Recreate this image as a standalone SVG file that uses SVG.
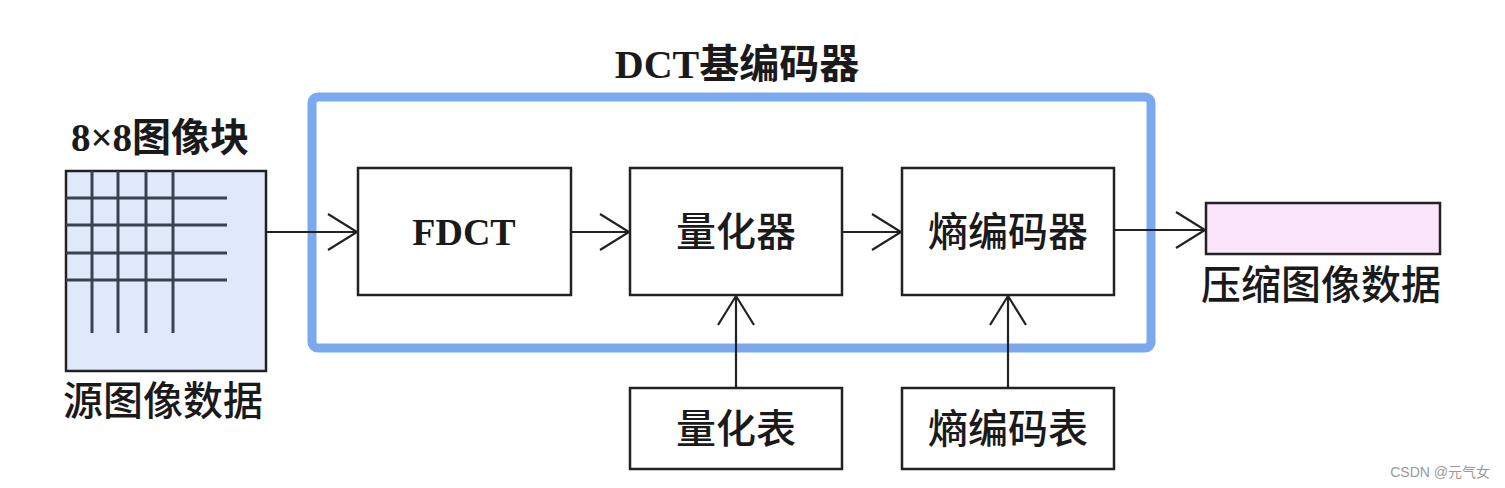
<svg xmlns="http://www.w3.org/2000/svg" width="1505" height="488" viewBox="0 0 1505 488">
<style>
.box{fill:#fff;stroke:#222;stroke-width:2.5}
.t{font-family:"Liberation Serif","Noto Sans CJK SC",serif;fill:#1a1a1a;text-anchor:middle;font-weight:500}
.b{font-weight:bold}
.ln{stroke:#222;stroke-width:2.2;fill:none}
.grid{stroke:#3a4250;stroke-width:3}
.wm{font-family:"Liberation Sans","Noto Sans CJK SC",sans-serif;fill:#999;text-anchor:end}
</style>
<rect width="1505" height="488" fill="#fff"/>
<g id="encoder">
<rect x="312" y="97" width="839" height="251" rx="6" fill="none" stroke="#7aa9ef" stroke-width="9"/>
<text class="t b" x="737" y="78" font-size="40">DCT基编码器</text>
</g>
<g id="source">
<text class="t b" x="160" y="151" font-size="39">8×8图像块</text>
<rect x="66" y="171" width="200" height="200" fill="#dfe9f9" stroke="#222" stroke-width="2.5"/>
<g class="grid">
<line x1="92" y1="171" x2="92" y2="333"/>
<line x1="118" y1="171" x2="118" y2="333"/>
<line x1="146" y1="171" x2="146" y2="333"/>
<line x1="173" y1="171" x2="173" y2="333"/>
<line x1="66" y1="198" x2="227" y2="198"/>
<line x1="66" y1="225" x2="227" y2="225"/>
<line x1="66" y1="253" x2="227" y2="253"/>
<line x1="66" y1="280" x2="227" y2="280"/>
</g>
<text class="t" x="163" y="415" font-size="40">源图像数据</text>
</g>
<g id="fdct"><rect class="box" x="358" y="168" width="213" height="127"/><text class="t b" x="464" y="245" font-size="38">FDCT</text></g>
<g id="quantizer"><rect class="box" x="630" y="168" width="212" height="127"/><text class="t" x="736" y="246" font-size="40">量化器</text></g>
<g id="entropy"><rect class="box" x="902" y="168" width="212" height="127"/><text class="t" x="1008" y="246" font-size="40">熵编码器</text></g>
<g id="qtable"><rect class="box" x="630" y="388" width="212" height="81"/><text class="t" x="736" y="443" font-size="40">量化表</text></g>
<g id="etable"><rect class="box" x="902" y="388" width="212" height="81"/><text class="t" x="1008" y="443" font-size="40">熵编码表</text></g>
<g id="output">
<rect x="1206" y="203" width="234" height="51" fill="#fbe5fb" stroke="#222" stroke-width="2.5"/>
<text class="t" x="1321" y="299" font-size="40">压缩图像数据</text>
</g>
<g id="connectors" class="ln">
<line x1="267" y1="232" x2="357" y2="232"/><polyline points="328,214 357,232 328,250"/>
<line x1="571" y1="232" x2="629" y2="232"/><polyline points="600,214 629,232 600,250"/>
<line x1="842" y1="232" x2="901" y2="232"/><polyline points="872,214 901,232 872,250"/>
<line x1="1114" y1="230" x2="1205" y2="230"/><polyline points="1176,212 1205,230 1176,248"/>
<line x1="736" y1="388" x2="736" y2="296"/><polyline points="718,325 736,296 754,325"/>
<line x1="1008" y1="388" x2="1008" y2="296"/><polyline points="990,325 1008,296 1026,325"/>
</g>
<text class="wm" x="1490" y="477" font-size="14">CSDN @元气女</text>
</svg>
